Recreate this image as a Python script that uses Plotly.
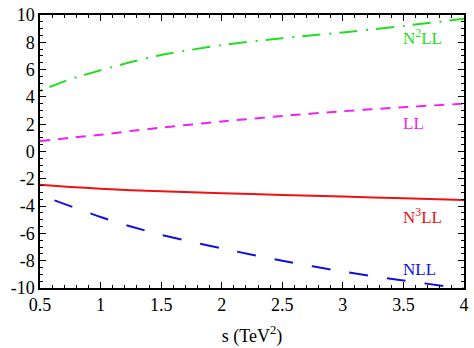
import plotly.graph_objects as go

s_vals = [0.5, 0.75, 1.0, 1.25, 1.5, 2.0, 2.5, 3.0, 3.5, 4.0]
n2ll = [4.45, 5.3, 5.95, 6.55, 7.07, 7.8, 8.3, 8.72, 9.2, 9.72]
ll = [0.76, 1.0, 1.22, 1.5, 1.75, 2.2, 2.6, 2.95, 3.25, 3.5]
n3ll = [-2.44, -2.6, -2.72, -2.83, -2.92, -3.06, -3.18, -3.3, -3.43, -3.56]
nll_s = [0.62, 0.75, 1.0, 1.25, 1.5, 2.0, 2.5, 3.0, 3.5, 4.0]
nll = [-3.58, -4.0, -4.8, -5.5, -6.1, -7.1, -8.0, -8.8, -9.45, -10.05]
y_ticks = [-10, -8, -6, -4, -2, 0, 2, 4, 6, 8, 10]
x_ticks = [0.5, 1, 1.5, 2, 2.5, 3, 3.5, 4]

font = "Liberation Serif, Times New Roman, Times, serif"

fig = go.Figure()
fig.add_trace(go.Scatter(x=s_vals, y=n2ll, mode="lines", line=dict(color="#22dd22", width=2, dash="2px,8px,18px,9px", shape="spline", smoothing=0.6)))
fig.add_trace(go.Scatter(x=s_vals, y=ll, mode="lines", line=dict(color="#ee22ee", width=2, dash="10px,8px", shape="spline", smoothing=0.6)))
fig.add_trace(go.Scatter(x=s_vals, y=n3ll, mode="lines", line=dict(color="#ee1111", width=2, shape="spline", smoothing=0.6)))
fig.add_trace(go.Scatter(x=nll_s, y=nll, mode="lines", line=dict(color="#1111dd", width=2, dash="19px,19px", shape="spline", smoothing=0.6)))

labels = [("N<sup>2</sup>LL", 3.66, 8.4, "#22dd22"),
          ("LL", 3.58, 2.05, "#ee22ee"),
          ("N<sup>3</sup>LL", 3.66, -4.7, "#ee1111"),
          ("NLL", 3.63, -8.65, "#1111dd")]
for t, x, y, c in labels:
    fig.add_annotation(x=x, y=y, text=t, showarrow=False, font=dict(family=font, size=17, color=c))

axis_common = dict(showgrid=False, zeroline=False, showline=True, linecolor="black", linewidth=1.5,
                   mirror="allticks", ticks="inside", ticklen=6, tickcolor="black", tickwidth=1,
                   tickfont=dict(family=font, size=18, color="black"))
fig.update_xaxes(range=[0.5, 4], tickmode="array", tickvals=x_ticks, ticktext=[str(v) for v in x_ticks],
                 minor=dict(dtick=0.1, tick0=0.5, ticks="inside", ticklen=3, tickcolor="black"),
                 title=dict(text="s (TeV<sup>2</sup>)", font=dict(family=font, size=18, color="black"), standoff=15),
                 **axis_common)
fig.update_yaxes(range=[-10, 10], tickmode="array", tickvals=y_ticks, ticktext=[str(v) for v in y_ticks],
                 minor=dict(dtick=0.5, tick0=0, ticks="inside", ticklen=3, tickcolor="black"),
                 **axis_common)
fig.update_layout(width=474, height=348, margin=dict(l=40, r=5, t=11, b=51),
                  font=dict(family=font, size=18, color="black"),
                  plot_bgcolor="white", paper_bgcolor="white", showlegend=False)
fig.write_html("out.html")
